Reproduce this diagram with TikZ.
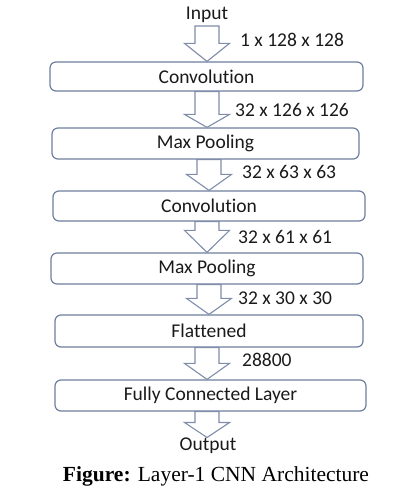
\documentclass[tikz,border=0pt]{standalone}
\usepackage{fontspec}
\setmainfont{Carlito}[Ligatures=NoCommon,RawFeature=-liga]
\newfontfamily\capfont{Liberation Serif}
\usetikzlibrary{calc}
\definecolor{edgeblue}{HTML}{6F7F9F}
\definecolor{arrowblue}{HTML}{7F8DAA}
\definecolor{txt}{HTML}{1A1A1A}
\tikzset{
  layerbox/.style={draw=edgeblue, line width=1.2pt, rounded corners=6pt, fill=white,
    minimum height=30pt, inner sep=0pt, text=txt, font=\fontsize{19.5pt}{22pt}\selectfont},
  dimlabel/.style={anchor=west, inner sep=0pt, text=txt, font=\fontsize{19.5pt}{22pt}\selectfont},
  endlabel/.style={inner sep=0pt, text=txt, font=\fontsize{19.5pt}{22pt}\selectfont},
  blockarrow/.style={draw=arrowblue, line width=1.1pt, fill=white, line join=miter}
}
\newcommand\flowarrow[3]{%
  \draw[blockarrow] let \p1=(#1), \p2=(#2) in
    (\x1-12pt,\y1) -- (\x1-12pt,\y2+#3) -- (\x1-22.5pt,\y2+#3) -- (\x1,\y2)
    -- (\x1+22.5pt,\y2+#3) -- (\x1+12pt,\y2+#3) -- (\x1+12pt,\y1) -- cycle;}
\begin{document}
\begin{tikzpicture}[x=1pt,y=-1pt]
\useasboundingbox (0,0) rectangle (408,487);
\node[endlabel] (input) at (207,15) {Input};
\coordinate (inbot) at (207,26);
\node[layerbox, minimum width=313pt, minimum height=29pt] (conv1) at (206.5,76.5) {Convolution};
\node[layerbox, minimum width=307pt, minimum height=31pt] (pool1) at (205.5,143.5) {Max Pooling};
\node[layerbox, minimum width=312pt, minimum height=30pt] (conv2) at (209,206) {Convolution};
\node[layerbox, minimum width=312pt, minimum height=31pt] (pool2) at (207,268.5) {Max Pooling};
\node[layerbox, minimum width=308pt, minimum height=32pt] (flat) at (209,331) {Flattened};
\node[layerbox, minimum width=311pt, minimum height=31pt] (fc) at (210.5,395.5) {Fully Connected Layer};
\node[endlabel] (output) at (208,446) {Output};
\coordinate (outtop) at (207,437.5);

\flowarrow{inbot}{inbot |- conv1.north}{18pt}
\flowarrow{conv1.south -| inbot}{pool1.north -| inbot}{13pt}
\flowarrow{pool1.south -| conv2.south}{conv2.north}{16pt}
\flowarrow{conv2.south -| pool2.south}{pool2.north}{22pt}
\flowarrow{pool2.south -| flat.south}{flat.north}{16pt}
\flowarrow{flat.south -| pool2.south}{fc.north -| pool2.south}{16pt}
\flowarrow{fc.south -| outtop}{outtop}{15pt}

\node[dimlabel] (d1) at (240,40) {1 x 128 x 128};
\node[dimlabel] (d2) at (235,110) {32 x 126 x 126};
\node[dimlabel] (d3) at (242,172) {32 x 63 x 63};
\node[dimlabel] (d4) at (238,237) {32 x 61 x 61};
\node[dimlabel] (d5) at (238,298) {32 x 30 x 30};
\node[dimlabel] (d6) at (242,360) {28800};

\node[inner sep=0pt, font=\capfont\fontsize{21.5pt}{24pt}\selectfont] (cap) at (216,476)
  {\textbf{Figure:} Layer-1 CNN Architecture};
\end{tikzpicture}
\end{document}
